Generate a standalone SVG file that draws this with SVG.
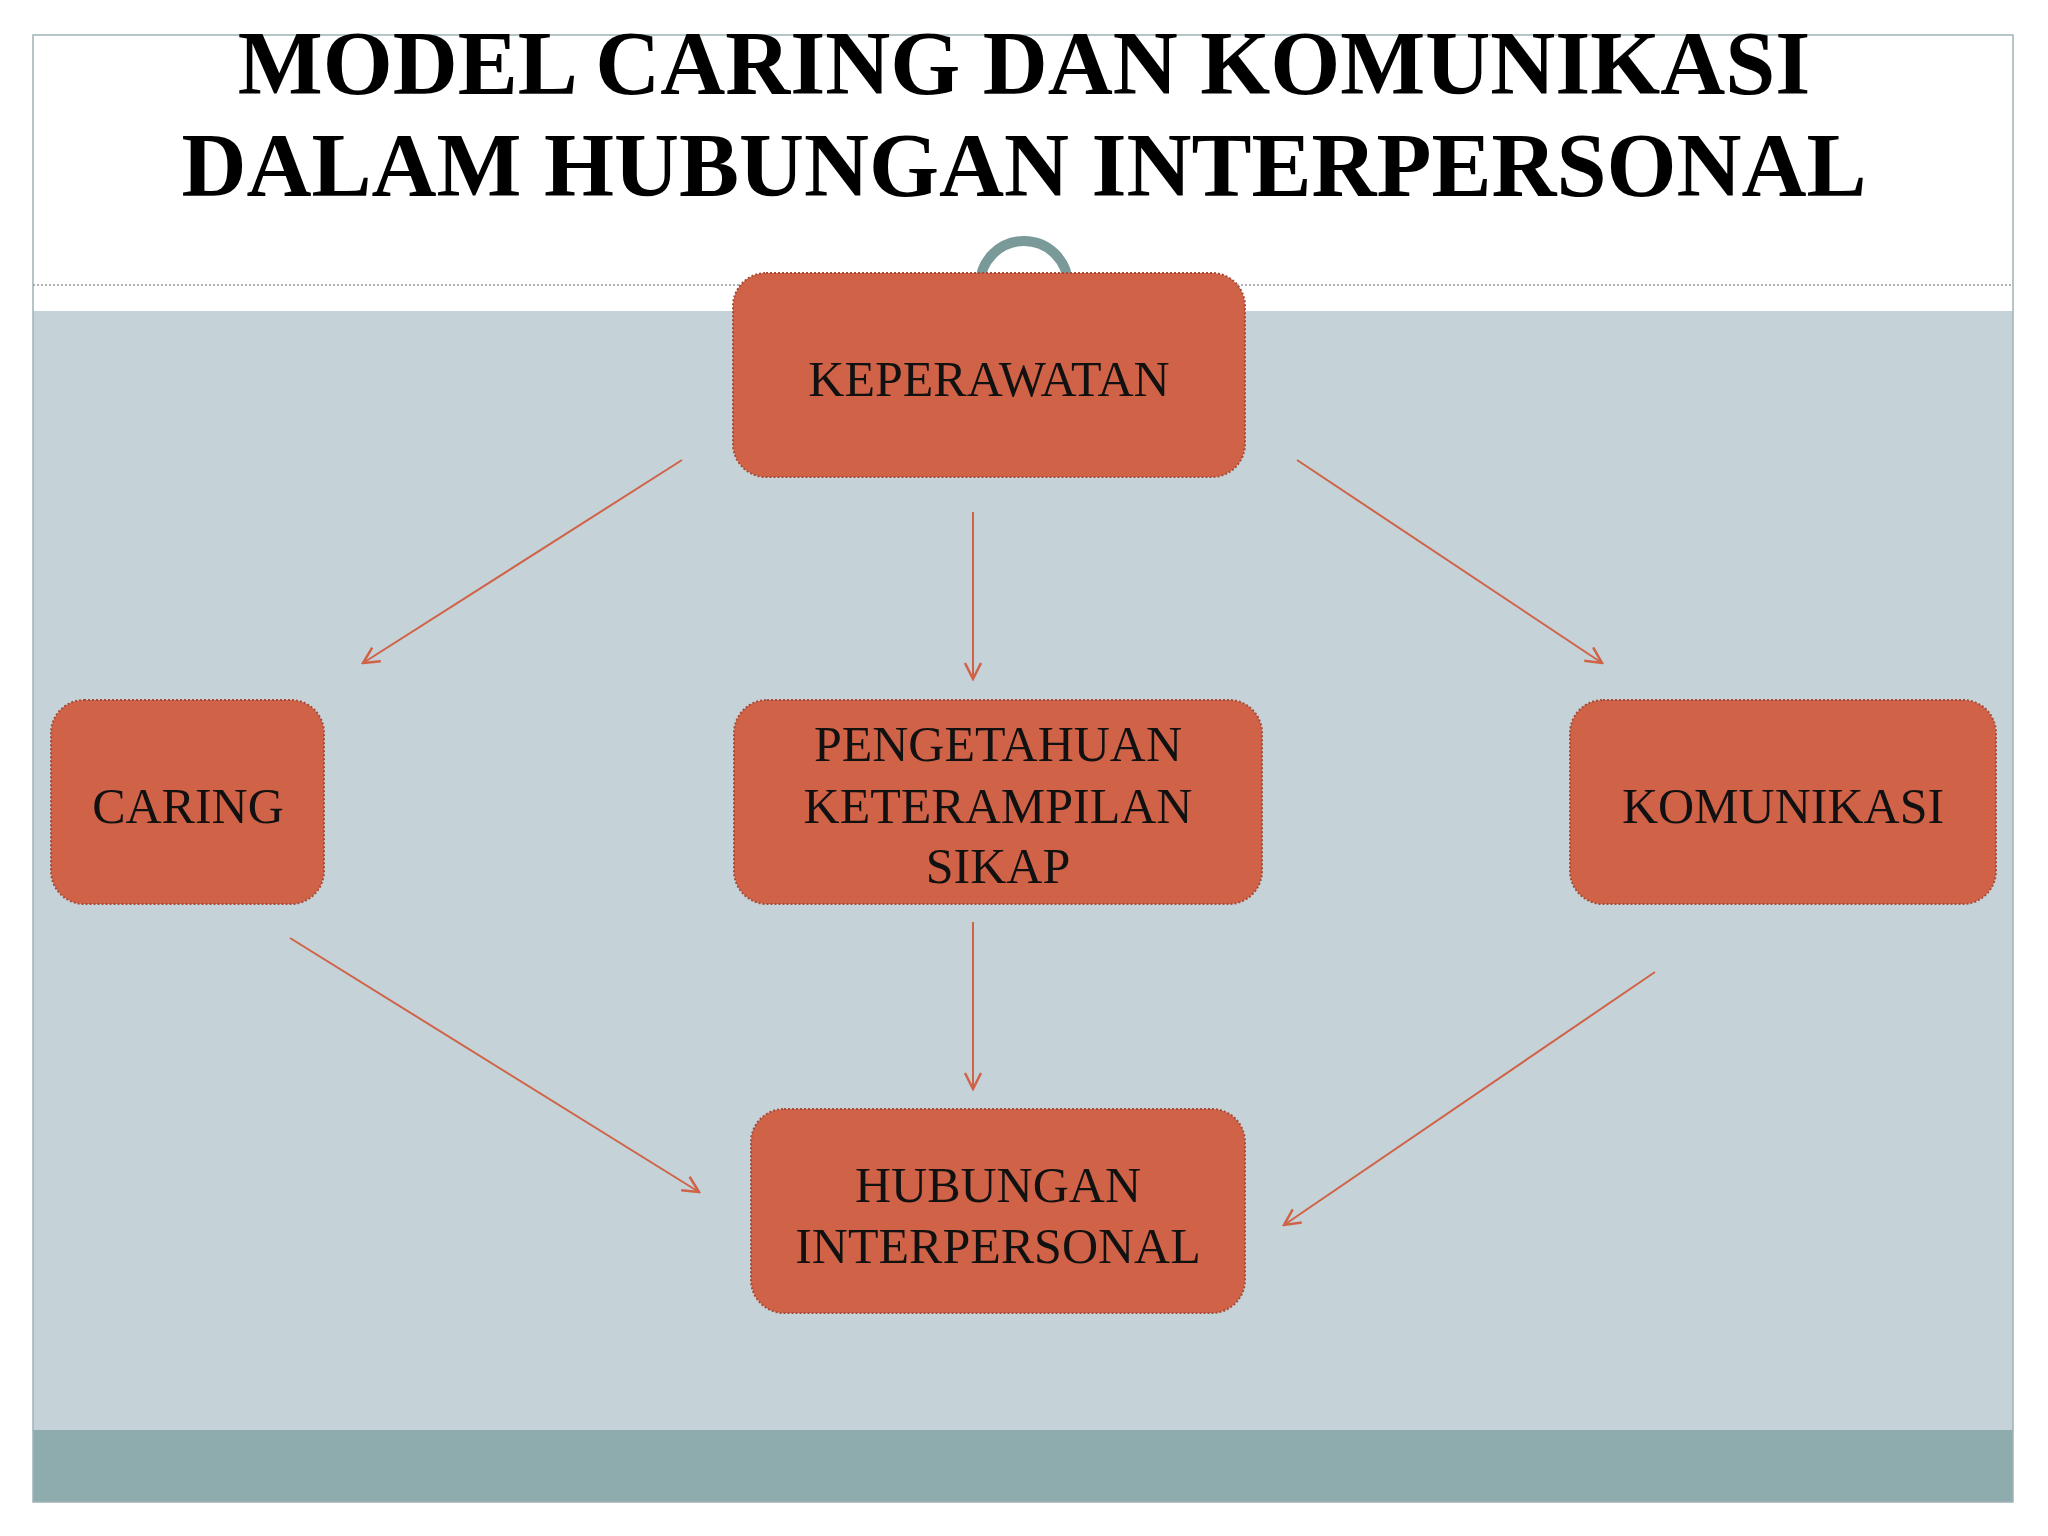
<svg xmlns="http://www.w3.org/2000/svg" width="2048" height="1536" viewBox="0 0 2048 1536">
<style>
.box{fill:#d06347;stroke:#a94a36;stroke-width:2;stroke-dasharray:2 2}
.lbl{font-family:"Liberation Serif",serif;font-size:50px;fill:#111;text-anchor:middle}
.con{stroke:#d06347;stroke-width:2;fill:none;marker-end:url(#ah)}
</style>
<defs>
<marker id="ah" viewBox="0 0 20 20" refX="18" refY="10" markerWidth="20" markerHeight="20" markerUnits="userSpaceOnUse" orient="auto">
<path d="M2,2 L18,10 L2,18" fill="none" stroke="#d06347" stroke-width="2.5"/>
</marker>
</defs>
<rect width="2048" height="1536" fill="#fff"/>
<rect x="33" y="311" width="1980" height="1119" fill="#c5d3d8"/>
<rect x="33" y="1430" width="1980" height="72" fill="#8eabad"/>
<rect x="33" y="35" width="1980" height="1467" fill="none" stroke="#9fb3b5" stroke-width="1.5"/>
<line x1="33" y1="285" x2="2013" y2="285" stroke="#999" stroke-width="1.5" stroke-dasharray="2 2"/>
<g id="title" font-family="Liberation Serif,serif" font-weight="bold" font-size="90" text-anchor="middle" fill="#000">
<text x="1024" y="94">MODEL CARING DAN KOMUNIKASI</text>
<text x="1024" y="196">DALAM HUBUNGAN INTERPERSONAL</text>
</g>
<path d="M980,285 A44,44 0 0 1 1068,285" fill="none" stroke="#7a9a99" stroke-width="10"/>
<g id="connectors">
<line class="con" x1="682" y1="460" x2="363" y2="663"/>
<line class="con" x1="973" y1="512" x2="973" y2="679"/>
<line class="con" x1="1297" y1="460" x2="1602" y2="663"/>
<line class="con" x1="290" y1="938" x2="699" y2="1192"/>
<line class="con" x1="973" y1="922" x2="973" y2="1089"/>
<line class="con" x1="1655" y1="972" x2="1284" y2="1225"/>
</g>
<g id="keperawatan"><rect class="box" x="733" y="273" width="512" height="204" rx="33"/><text class="lbl" x="989" y="396">KEPERAWATAN</text></g>
<g id="caring"><rect class="box" x="51" y="700" width="273" height="204" rx="33"/><text class="lbl" x="188" y="823">CARING</text></g>
<g id="pengetahuan"><rect class="box" x="734" y="700" width="528" height="204" rx="33"/><text class="lbl" x="998" y="761">PENGETAHUAN</text><text class="lbl" x="998" y="823">KETERAMPILAN</text><text class="lbl" x="998" y="883">SIKAP</text></g>
<g id="komunikasi"><rect class="box" x="1570" y="700" width="426" height="204" rx="33"/><text class="lbl" x="1783" y="823">KOMUNIKASI</text></g>
<g id="hubungan"><rect class="box" x="751" y="1109" width="494" height="204" rx="33"/><text class="lbl" x="998" y="1202">HUBUNGAN</text><text class="lbl" x="998" y="1263">INTERPERSONAL</text></g>
</svg>
